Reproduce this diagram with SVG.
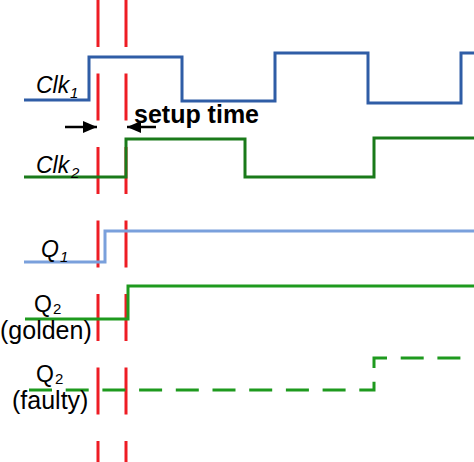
<svg xmlns="http://www.w3.org/2000/svg" width="474" height="462" viewBox="0 0 474 462">
<style>
.sig{fill:none;stroke-width:3;stroke-linejoin:miter;stroke-linecap:butt}
.red{fill:none;stroke:#ee1c24;stroke-width:3;stroke-dasharray:47 26.5}
.lab{font-family:"Liberation Sans",Arial,sans-serif;fill:#000}
.it{font-style:italic}
.big{font-size:23px}
.sub{font-size:15px}
.par{font-size:25px}
</style>
<defs>
<marker id="ah" viewBox="0 0 14 12" refX="14" refY="6" markerWidth="14" markerHeight="12" markerUnits="userSpaceOnUse" orient="auto">
<path d="M0,0 L14,6 L0,12 Z" fill="#000"/>
</marker>
</defs>
<g id="markers">
<line class="red" x1="98" y1="0" x2="98" y2="462"/>
<line class="red" x1="126" y1="0" x2="126" y2="462"/>
</g>
<g id="clk1">
<path class="sig" stroke="#2f5da6" d="M24,100 H89 V57 H182 V101 H275 V53 H368 V103 H461 V53 H474"/>
<text class="lab it big" x="36" y="93">Clk</text>
<text class="lab it sub" x="70" y="98">1</text>
</g>
<g id="clk2">
<path class="sig" stroke="#1a7a1a" d="M24,177 H126 V139 H245 V177 H374 V138 H474"/>
<text class="lab it big" x="36" y="173">Clk</text>
<text class="lab it sub" x="71" y="178">2</text>
</g>
<g id="setup">
<line x1="65" y1="127" x2="97" y2="127" stroke="#000" stroke-width="2.5" marker-end="url(#ah)"/>
<line x1="156" y1="127" x2="127" y2="127" stroke="#000" stroke-width="2.5" marker-end="url(#ah)"/>
<text class="lab" x="134" y="123" font-size="25" font-weight="bold">setup time</text>
</g>
<g id="q1">
<path class="sig" stroke="#7aa0dc" d="M24,262 H105 V231 H474"/>
<text class="lab it big" x="41" y="257">Q</text>
<text class="lab it sub" x="60" y="262">1</text>
</g>
<g id="q2golden">
<path class="sig" stroke="#1e9a1e" stroke-width="3.5" d="M25,319 H128 V286 H474"/>
<text class="lab big" x="34" y="312">Q</text>
<text class="lab sub" x="53" y="314">2</text>
<text class="lab par" x="0" y="339">(golden)</text>
</g>
<g id="q2faulty">
<path class="sig" stroke="#1e9a1e" stroke-width="3.5" stroke-dasharray="23 13.7" d="M29,390 H374 V358 H461"/>
<text class="lab big" x="36" y="382">Q</text>
<text class="lab sub" x="55" y="384">2</text>
<text class="lab par" x="12" y="409">(faulty)</text>
</g>
</svg>
